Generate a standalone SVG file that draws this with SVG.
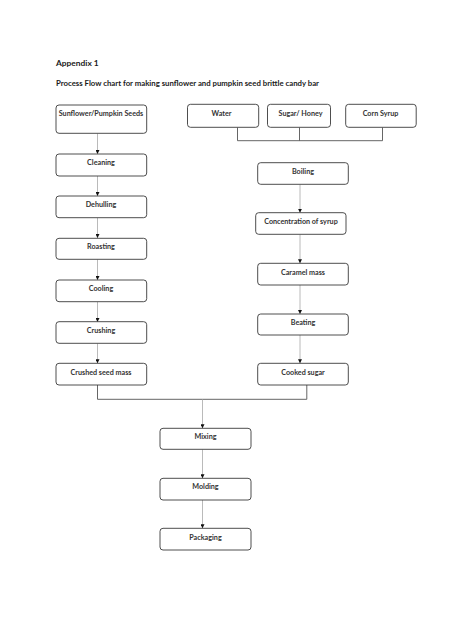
<svg xmlns="http://www.w3.org/2000/svg" width="474" height="632" viewBox="0 0 474 632">
<style>
.bg{fill:#fff}
.box{fill:#fff;stroke:#3a3a3a;stroke-width:0.9}
.t{font-family:Lato,"Open Sans","Liberation Sans",sans-serif;font-size:7.2px;font-weight:bold;fill:#333;text-anchor:middle}
.h{font-family:Lato,"Open Sans","Liberation Sans",sans-serif;font-size:8.4px;font-weight:bold;fill:#1a1a1a}
.c{fill:none;stroke:#a8a8a8;stroke-width:0.8}
.m{fill:none;stroke:#555;stroke-width:0.9}
</style>
<defs>
<marker id="ah" viewBox="0 0 6 6" refX="6" refY="3" markerWidth="4" markerHeight="4" markerUnits="userSpaceOnUse" orient="auto">
<path d="M0,0 L6,3 L0,6 Z" fill="#111"/>
</marker>
</defs>
<rect class="bg" x="0" y="0" width="474" height="632"/>
<text class="h" x="56" y="66">Appendix 1</text>
<text class="h" x="56" y="86" textLength="263" lengthAdjust="spacingAndGlyphs">Process Flow chart for making sunflower and pumpkin seed brittle candy bar</text>

<g id="connectors">
<path class="m" d="M237.5,127.5 V140.7 M299.5,127.5 V140.7 M382.5,127.5 V140.7 M237.5,140.7 H382.5"/>
<path class="c" d="M97.5,133.5 V154" marker-end="url(#ah)"/>
<path class="c" d="M97.5,176 V196" marker-end="url(#ah)"/>
<path class="c" d="M97.5,218 V238" marker-end="url(#ah)"/>
<path class="c" d="M97.5,259.5 V280" marker-end="url(#ah)"/>
<path class="c" d="M97.5,302 V322" marker-end="url(#ah)"/>
<path class="c" d="M97.5,343.5 V363.3" marker-end="url(#ah)"/>
<path class="c" d="M300,184.5 V212.7" marker-end="url(#ah)"/>
<path class="c" d="M300,234.5 V263.3" marker-end="url(#ah)"/>
<path class="c" d="M300,285 V314" marker-end="url(#ah)"/>
<path class="c" d="M300,335 V363.3" marker-end="url(#ah)"/>
<path class="m" d="M97.5,385 V399.3 H306.8 V385"/>
<path class="c" d="M202.5,399.3 V428.3" marker-end="url(#ah)"/>
<path class="c" d="M202.5,449.5 V478.3" marker-end="url(#ah)"/>
<path class="c" d="M202.5,500 V528.3" marker-end="url(#ah)"/>
</g>

<g id="n-seeds"><rect class="box" x="56" y="105" width="90.7" height="28.3" rx="3"/><text class="t" x="101" y="116">Sunflower/Pumpkin  Seeds</text></g>
<g id="n-water"><rect class="box" x="187.5" y="104.3" width="71.2" height="23" rx="3"/><text class="t" x="221.5" y="115.5">Water</text></g>
<g id="n-sugar"><rect class="box" x="267.5" y="104.3" width="63" height="23" rx="3"/><text class="t" x="300.5" y="115.5">Sugar/ Honey</text></g>
<g id="n-corn"><rect class="box" x="345.7" y="104.3" width="70.5" height="23" rx="3"/><text class="t" x="380.5" y="115.5">Corn Syrup</text></g>

<g id="n-cleaning"><rect class="box" x="56" y="154" width="90.7" height="22" rx="3"/><text class="t" x="101" y="165">Cleaning</text></g>
<g id="n-dehulling"><rect class="box" x="56" y="196" width="90.7" height="21.7" rx="3"/><text class="t" x="101" y="207">Dehulling</text></g>
<g id="n-roasting"><rect class="box" x="56" y="238.3" width="90.7" height="21" rx="3"/><text class="t" x="101" y="248.5">Roasting</text></g>
<g id="n-cooling"><rect class="box" x="56" y="280" width="90.7" height="21.7" rx="3"/><text class="t" x="101" y="291">Cooling</text></g>
<g id="n-crushing"><rect class="box" x="56" y="321.7" width="90.7" height="21.6" rx="3"/><text class="t" x="101" y="332.5">Crushing</text></g>
<g id="n-crushedmass"><rect class="box" x="56" y="363.3" width="90.7" height="21.7" rx="3"/><text class="t" x="101" y="374.5">Crushed seed mass</text></g>

<g id="n-boiling"><rect class="box" x="257.7" y="162.7" width="90.6" height="21.6" rx="3"/><text class="t" x="303" y="174">Boiling</text></g>
<g id="n-concentration"><rect class="box" x="255.7" y="212.7" width="90.3" height="21.6" rx="3"/><text class="t" x="301" y="224">Concentration of syrup</text></g>
<g id="n-caramel"><rect class="box" x="257.7" y="263.3" width="90.6" height="21.7" rx="3"/><text class="t" x="303" y="274.5">Caramel mass</text></g>
<g id="n-beating"><rect class="box" x="257.7" y="314" width="90.6" height="21" rx="3"/><text class="t" x="303" y="324.5">Beating</text></g>
<g id="n-cooked"><rect class="box" x="257.7" y="363.3" width="90.6" height="21.7" rx="3"/><text class="t" x="303" y="374.5">Cooked sugar</text></g>

<g id="n-mixing"><rect class="box" x="160" y="428.3" width="91" height="21" rx="3"/><text class="t" x="205.5" y="439">Mixing</text></g>
<g id="n-molding"><rect class="box" x="160" y="478.3" width="91" height="21.7" rx="3"/><text class="t" x="205.5" y="489">Molding</text></g>
<g id="n-packaging"><rect class="box" x="160" y="528.3" width="91" height="21.7" rx="3"/><text class="t" x="205.5" y="539.5">Packaging</text></g>
</svg>
